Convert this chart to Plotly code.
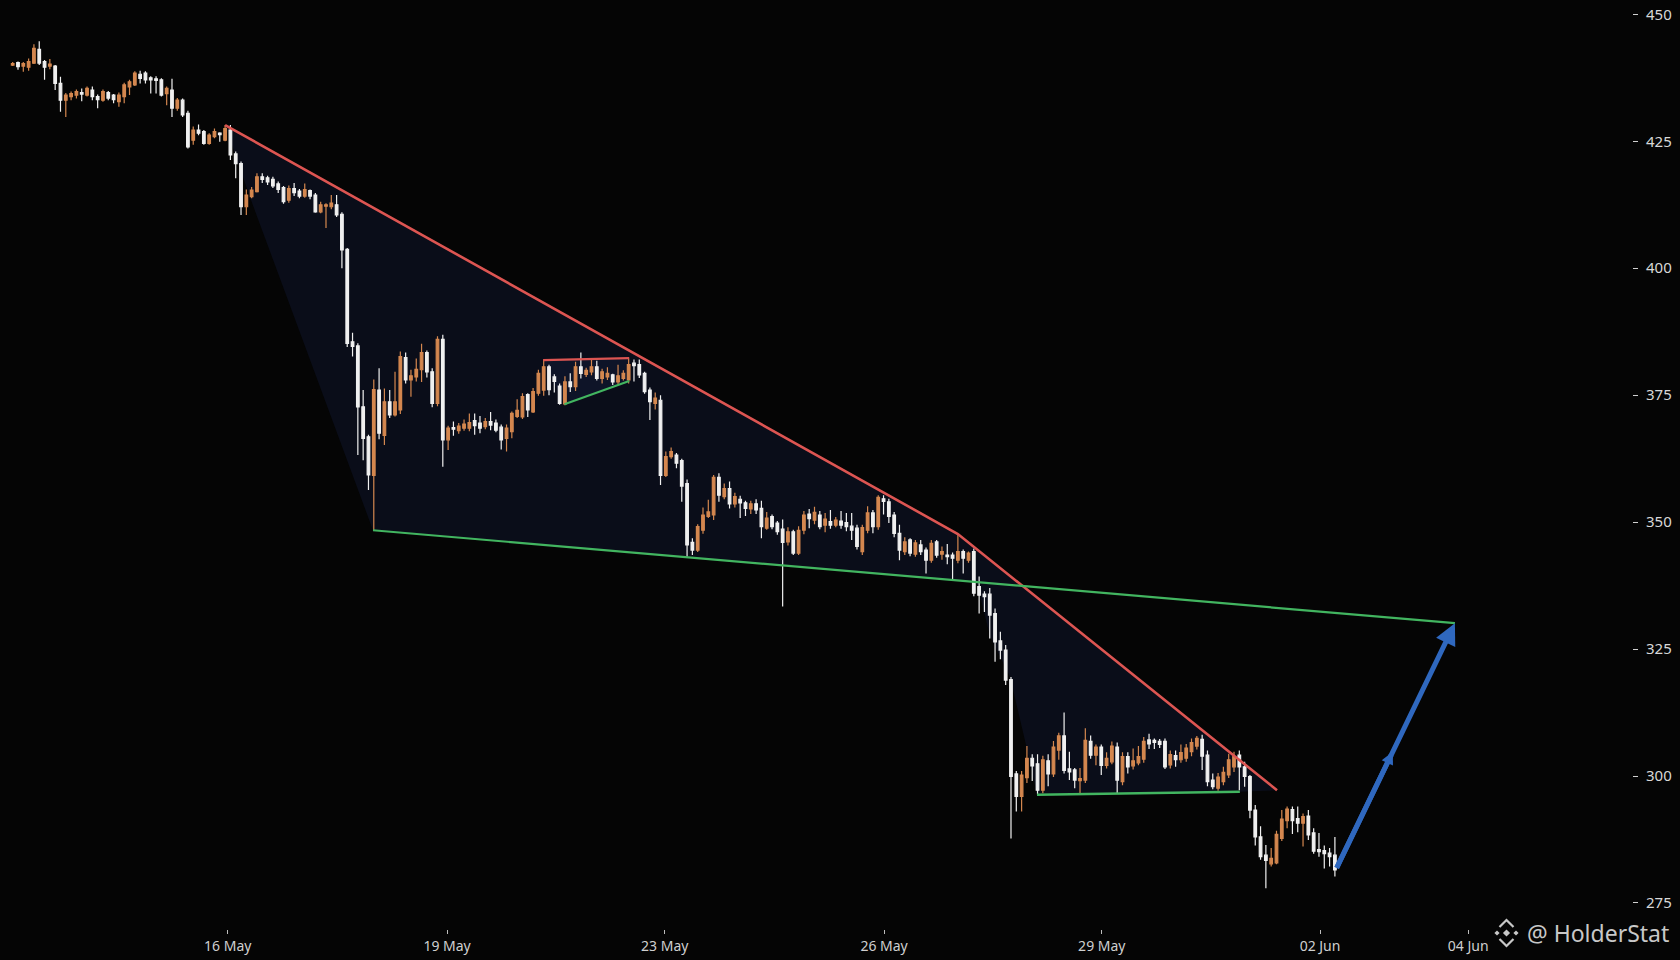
import plotly.graph_objects as go

# ---------------- data (2h candles, x = candle index) ----------------
candle_open = [
440.0,440.5,439.8,439.6,440.4,443.1,440.7,439.8,439.8,436.4,
433.1,433.8,434.1,434.6,434.1,435.1,433.8,433.1,434.6,434.1,
432.8,433.8,435.7,436.1,438.2,438.4,437.5,437.3,437.1,434.4,
435.1,431.5,433.1,430.5,425.2,427.2,426.9,424.6,425.9,426.6,
425.2,427.2,422.5,420.6,412.1,414.1,415.1,418.0,417.8,417.5,
416.6,415.9,413.4,415.7,415.2,414.2,415.3,414.4,411.1,412.2,
412.1,412.5,410.6,403.7,385.5,384.7,372.7,366.8,359.2,376.0,
367.1,373.7,371.1,372.1,382.4,378.0,378.6,380.0,383.4,379.6,
373.4,386.0,366.2,368.6,368.0,368.5,368.5,370.0,369.5,368.8,
369.8,369.5,368.7,366.5,367.8,370.8,370.7,375.1,371.7,375.4,
376.0,380.6,378.6,376.8,373.3,377.6,376.7,380.6,379.1,379.6,
380.6,378.3,378.6,379.0,377.6,378.3,378.0,381.3,381.0,379.3,
376.0,373.4,374.0,359.2,362.9,363.2,362.1,357.6,346.0,344.5,
348.4,351.1,351.4,358.8,355.0,356.6,353.6,354.5,353.8,352.6,
353.6,352.7,348.8,351.1,349.8,348.6,346.1,348.1,343.9,348.4,
351.6,350.4,351.4,349.4,350.1,349.4,350.2,349.9,349.2,348.8,
344.2,348.4,351.8,349.1,354.6,354.0,351.4,347.8,344.2,346.5,
343.7,345.5,344.5,342.5,346.1,343.7,343.5,343.5,342.5,344.2,
342.5,344.2,337.3,335.8,335.8,332.0,326.6,324.8,319.0,300.4,
296.0,299.7,303.5,302.4,297.2,303.0,300.4,305.1,307.9,301.4,
301.2,299.1,299.2,306.8,304.1,305.7,302.1,302.8,305.7,298.9,
303.8,302.0,302.6,303.3,307.1,307.0,306.8,306.8,302.2,304.0,
303.2,303.5,304.8,305.9,307.2,304.1,299.2,297.6,298.9,300.2,
301.8,304.1,301.8,299.9,293.3,288.0,284.4,282.7,282.9,287.7,
291.2,293.4,291.6,290.7,292.1,288.8,285.5,285.3,284.8,284.4]
candle_high = [
440.6,440.7,440.6,441.3,444.1,444.7,441.0,441.2,440.0,437.7,
434.5,434.8,435.2,435.4,435.8,435.8,434.2,435.2,434.9,434.3,
434.6,436.5,437.1,438.8,438.9,438.8,437.8,437.8,437.4,435.8,
437.3,433.5,433.4,431.0,427.9,428.3,427.2,426.6,427.5,426.8,
428.2,428.2,423.0,421.0,415.5,416.0,418.7,418.7,418.2,418.0,
417.1,416.2,416.3,416.8,415.6,416.7,415.5,414.8,413.1,412.8,
414.4,414.4,411.0,404.0,387.3,385.2,376.0,367.2,378.1,380.3,
376.3,376.0,379.6,383.6,383.4,380.0,382.2,385.1,383.8,380.3,
386.6,386.9,369.0,369.8,369.5,370.2,371.4,371.4,370.9,370.5,
371.7,370.2,369.2,369.2,371.8,374.2,375.4,375.4,376.4,380.0,
382.0,381.0,379.1,377.3,378.7,379.3,381.6,383.4,380.4,382.0,
381.8,380.2,380.5,379.2,381.0,379.9,382.2,382.0,382.0,379.6,
376.5,375.5,375.0,363.9,364.7,363.6,362.5,358.4,346.8,349.6,
352.9,354.4,359.3,359.6,357.6,358.0,355.8,355.2,354.2,354.2,
354.5,354.2,352.0,351.5,350.2,350.5,349.0,348.5,349.2,352.2,
352.6,353.0,352.2,351.8,352.4,351.0,352.2,351.8,351.8,349.5,
349.5,353.1,352.4,355.3,355.3,354.6,352.0,349.5,347.0,346.8,
346.5,346.5,345.0,346.5,346.5,345.2,345.7,344.0,347.5,344.6,
344.2,344.8,339.3,336.4,337.0,333.0,328.4,325.8,319.5,301.0,
301.0,305.9,304.3,304.3,304.0,304.3,306.9,308.5,312.5,304.8,
301.6,301.6,309.4,308.0,306.2,306.2,304.7,306.8,306.6,304.7,
304.7,305.4,305.9,307.7,308.3,307.4,307.3,307.4,305.0,305.0,
306.2,306.3,307.4,307.9,308.1,305.0,300.5,300.6,301.8,304.4,
304.8,305.0,302.8,300.2,294.3,290.1,286.4,285.8,289.2,293.3,
294.0,294.0,294.0,292.6,293.3,289.7,288.8,286.3,285.8,288.0]
candle_low = [
439.8,439.1,438.7,438.9,440.2,440.0,437.1,439.2,435.1,430.8,
429.8,433.1,433.4,432.9,433.8,433.1,431.5,432.8,433.1,432.5,
431.8,432.5,434.1,435.9,436.4,436.4,434.4,434.4,433.8,432.1,
429.8,431.0,429.8,423.6,424.3,426.2,424.3,424.3,425.6,424.9,
425.0,421.3,417.7,410.5,410.5,413.8,414.9,416.8,416.4,415.8,
414.8,412.7,412.9,414.2,413.8,413.9,413.6,410.9,410.8,407.9,
411.6,410.1,400.0,384.5,382.6,363.2,362.2,356.3,348.4,366.3,
365.2,370.5,370.8,371.3,377.3,374.7,377.7,377.6,378.5,372.6,
372.8,360.9,364.2,367.0,367.4,368.0,367.9,367.2,367.5,368.3,
368.1,367.7,364.3,363.9,366.5,370.5,370.3,370.7,371.5,374.9,
374.9,375.0,375.5,373.1,373.0,375.6,375.8,378.3,378.6,378.9,
377.9,377.3,378.0,377.0,377.2,377.9,377.3,377.7,378.4,375.3,
370.1,372.2,357.3,358.9,362.5,360.6,354.0,343.2,343.5,344.1,
347.7,350.8,350.4,354.0,354.5,352.7,352.9,350.8,351.2,351.6,
351.6,346.8,348.5,348.6,347.5,333.4,345.4,343.5,343.5,347.6,
348.8,349.6,348.6,348.0,348.7,349.0,348.7,348.2,346.5,344.6,
343.5,347.8,347.8,348.5,351.5,349.8,347.0,342.5,343.5,343.3,
343.2,343.5,339.9,342.0,343.0,342.6,341.7,338.6,341.9,339.9,
342.0,335.4,332.0,332.3,327.1,322.5,323.0,317.9,287.7,293.0,
293.0,298.6,299.0,296.3,296.6,298.0,299.8,303.2,300.5,299.2,
297.6,296.5,298.6,303.4,302.1,300.2,301.5,302.3,296.6,298.2,
300.5,301.3,302.1,302.6,305.3,305.3,305.5,301.4,301.5,301.8,
302.6,302.8,303.9,305.2,301.2,298.0,297.4,297.1,298.2,299.6,
300.8,297.2,297.9,291.7,286.3,283.5,277.9,282.2,282.6,287.2,
289.7,288.6,288.9,286.1,287.4,284.7,284.1,281.8,282.2,280.2]
candle_close = [
440.3,439.7,440.3,440.7,443.3,440.4,439.6,440.2,436.4,433.1,
434.1,434.4,434.8,434.3,435.4,433.8,433.2,434.8,433.5,433.2,
434.1,436.1,436.7,438.4,437.4,437.1,437.1,437.0,434.1,435.4,
431.5,433.1,430.2,423.9,427.2,426.6,424.6,426.2,426.9,426.3,
427.5,422.3,420.6,412.1,414.4,415.4,418.0,417.5,417.0,416.2,
415.5,413.1,415.7,414.9,414.2,415.5,414.2,411.1,412.5,412.5,
412.8,410.5,403.6,385.2,384.6,372.7,366.5,359.3,376.1,367.5,
373.7,371.1,373.7,382.6,378.0,378.8,380.1,383.4,379.6,373.4,
386.0,366.2,368.5,368.3,368.9,369.3,369.6,369.0,368.5,369.8,
369.1,368.1,366.2,368.5,371.4,372.0,374.7,372.1,375.7,379.3,
380.6,376.1,377.7,373.4,377.6,376.7,380.6,379.3,379.9,380.6,
378.3,379.6,379.3,377.6,378.8,379.3,381.0,380.8,379.0,375.7,
373.7,374.4,359.2,362.9,363.9,361.6,357.1,345.5,344.5,349.1,
351.4,352.0,358.8,355.3,356.6,353.6,355.0,353.8,352.7,353.6,
352.4,349.1,350.8,349.1,348.1,346.0,348.1,343.9,348.4,351.4,
350.7,351.9,349.1,350.6,349.4,350.4,349.4,349.1,348.4,345.2,
348.9,351.8,349.1,354.9,354.1,351.1,347.8,344.5,346.1,343.9,
345.9,344.2,342.5,345.8,343.5,344.2,343.2,342.9,344.2,342.9,
343.9,336.0,335.6,335.3,331.7,326.4,324.8,318.9,299.9,296.0,
300.2,303.5,302.0,297.2,303.2,300.4,305.7,307.9,301.1,300.8,
299.2,299.5,307.0,304.1,305.7,302.1,303.5,305.9,299.2,303.8,
301.8,303.0,303.8,306.8,306.3,306.6,306.2,301.8,304.2,303.2,
304.6,305.5,306.6,307.4,303.9,298.9,297.9,299.8,300.7,303.2,
303.8,301.8,299.9,293.3,288.0,284.1,283.4,283.8,288.5,291.5,
293.5,291.2,290.7,292.0,288.4,285.2,285.1,284.7,284.1,281.5]
candle_x = list(range(len(candle_open)))

# x-axis date labels (positions in candle index units)
date_tick_pos = [40.5, 81.8, 122.8, 164.1, 205.1, 246.2, 274.1]
date_tick_text = ["16 May", "19 May", "23 May", "26 May", "29 May", "02 Jun", "04 Jun"]
price_ticks = [275, 300, 325, 350, 375, 400, 425, 450]

# drawing annotations (index, price)
fill_x = [40, 44.5, 67.85, 181.5, 184.1, 187.8, 190.9, 192.9, 231.1, 238.1, 178, 40]
fill_y = [428.2, 414.5, 348.4, 338.2, 327.4, 319.6, 305.8, 296.3, 296.9, 297.2, 347.65, 428.2]
tri_x = [99.9, 116.1, 116.1, 103.9, 99.9]
tri_y = [381.9, 382.3, 377.8, 373.2, 381.9]
red_main_x = [40, 178, 238.1]
red_main_y = [428.2, 347.65, 297.2]
green_main_x = [67.85, 271.6]
green_main_y = [348.4, 330.1]
green_low_x = [192.9, 231.1]
green_low_y = [296.3, 296.9]
red_small_x = [99.9, 116.1]
red_small_y = [381.9, 382.3]
green_small_x = [103.9, 116.1]
green_small_y = [373.2, 377.8]
arrow_x = [249.2, 259.9, 271.6]
arrow_y = [281.6, 304.8, 330.1]

# ---------------- styling ----------------
BG = "#050505"
NAVY = "#0a0d19"
ORANGE = "#d4874f"
WHITE = "#f0f0f0"
RED = "#dd5552"
GREEN = "#42b560"
BLUE = "#2f68bf"
FONT = "Noto Sans"

W, H = 1680, 960
ML, MR, MT, MB = 0, 48, 0, 31
PW, PH = W - ML - MR, H - MT - MB


def data_path(xs, ys):
    return " ".join(("M" if k == 0 else "L") + f"{x},{y}" for k, (x, y) in enumerate(zip(xs, ys))) + " Z"


fig = go.Figure()
fig.add_trace(go.Candlestick(
    x=candle_x, open=candle_open, high=candle_high, low=candle_low, close=candle_close,
    increasing=dict(line=dict(color=ORANGE, width=1.2), fillcolor=ORANGE),
    decreasing=dict(line=dict(color=WHITE, width=1.2), fillcolor=WHITE),
    whiskerwidth=0, hoverinfo="skip"))
for xs, ys, col, wd in [(red_main_x, red_main_y, RED, 2.6),
                        (green_main_x, green_main_y, GREEN, 2.2),
                        (green_low_x, green_low_y, GREEN, 2.4),
                        (red_small_x, red_small_y, RED, 2.2),
                        (green_small_x, green_small_y, GREEN, 2.2)]:
    fig.add_trace(go.Scatter(x=xs, y=ys, mode="lines", line=dict(color=col, width=wd),
                             hoverinfo="skip"))

annotations = [
    dict(x=arrow_x[2], y=arrow_y[2], ax=arrow_x[0], ay=arrow_y[0], xref="x", yref="y",
         axref="x", ayref="y", text="", showarrow=True, arrowhead=2, arrowsize=0.85,
         arrowwidth=5, arrowcolor=BLUE, standoff=0),
    dict(x=arrow_x[1], y=arrow_y[1], ax=arrow_x[0], ay=arrow_y[0], xref="x", yref="y",
         axref="x", ayref="y", text="", showarrow=True, arrowhead=2, arrowsize=0.5,
         arrowwidth=5, arrowcolor=BLUE, standoff=0),
    dict(x=1671 / PW, y=(PH - 933) / PH, xref="paper", yref="paper", xanchor="right",
         yanchor="middle", text="@ HolderStat", showarrow=False,
         font=dict(family=FONT, size=23, color="#c8c8c8")),
]


def pp(px, py):
    return px / PW, (PH - py) / PH


def path(points, close=True):
    s = ""
    for k, (px, py) in enumerate(points):
        x, y = pp(px, py)
        s += ("M" if k == 0 else "L") + f"{x:.5f},{y:.5f} "
    return s + ("Z" if close else "")


shapes = [
    dict(type="path", xref="x", yref="y", layer="below", path=data_path(fill_x, fill_y),
         fillcolor=NAVY, line=dict(width=0)),
    dict(type="path", xref="x", yref="y", layer="below", path=data_path(tri_x, tri_y),
         fillcolor="#0e1428", line=dict(width=0)),
]
cx, cy = 1506.5, 933
for (dx, r) in [(0, 3.6), (-9.5, 2.6), (9.5, 2.6)]:
    shapes.append(dict(type="path", xref="paper", yref="paper",
                       path=path([(cx + dx, cy - r), (cx + dx + r, cy), (cx + dx, cy + r), (cx + dx - r, cy)]),
                       fillcolor="#c8c8c8", line=dict(width=0)))
for sgn in (-1, 1):
    shapes.append(dict(type="path", xref="paper", yref="paper",
                       path=path([(cx - 7, cy + sgn * 6), (cx, cy + sgn * 13), (cx + 7, cy + sgn * 6)], close=False),
                       line=dict(color="#c8c8c8", width=2.2)))

fig.update_layout(
    width=W, height=H, margin=dict(l=ML, r=MR, t=MT, b=MB),
    paper_bgcolor=BG, plot_bgcolor=BG, showlegend=False,
    font=dict(family=FONT, color="#d0d0d0"),
    annotations=annotations, shapes=shapes,
    xaxis=dict(range=[-2.39, 304.95], rangeslider=dict(visible=False), showgrid=False,
               zeroline=False, showline=False, tickmode="array", tickvals=date_tick_pos,
               ticktext=date_tick_text, ticks="outside", ticklen=4, tickwidth=1,
               tickcolor="#bdbdbd", tickfont=dict(size=14, color="#cfcfcf")),
    yaxis=dict(range=[269.87, 452.82], side="right", showgrid=False, zeroline=False,
               showline=False, tickmode="array", tickvals=price_ticks, ticks="outside",
               ticklen=5, tickwidth=1.2, tickcolor="#d0d0d0", ticklabelstandoff=5,
               tickfont=dict(size=15, color="#d8d8d8")),
)

fig.write_html("out.html", include_plotlyjs=True, config={"displayModeBar": False},
               post_script="document.body.style.margin='0';document.body.style.overflow='hidden';")
